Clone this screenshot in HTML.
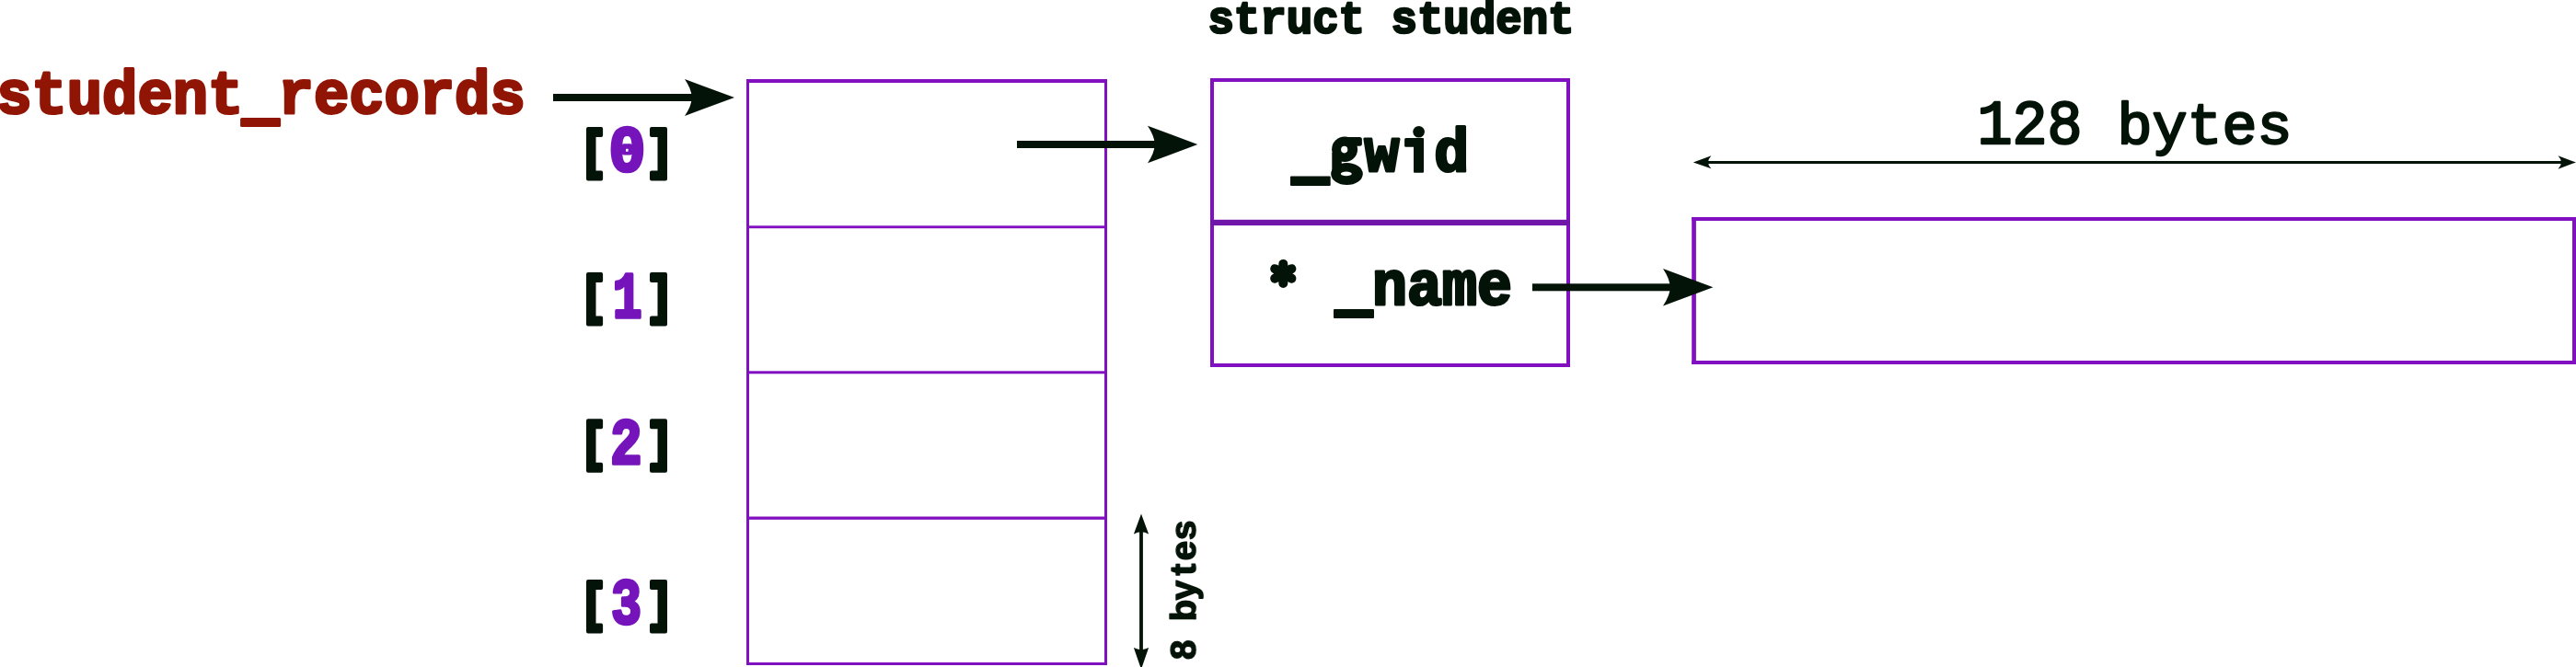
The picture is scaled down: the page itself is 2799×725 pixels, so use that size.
<!DOCTYPE html>
<html>
<head>
<meta charset="utf-8">
<title>student_records diagram</title>
<style>
  html, body { margin: 0; padding: 0; background: #ffffff; }
  body { width: 2799px; height: 725px; overflow: hidden; position: relative; }
  svg { position: absolute; left: 0; top: 0; display: block; }
  .mono { font-family: "Liberation Mono", monospace; font-weight: bold; }
  .sans { font-family: "Liberation Sans", sans-serif; font-weight: bold; }
  .blk { fill: #041308; }
  .pur { fill: #8111c0; }
  .dig { fill: #7614bb; stroke: #7614bb; }
  .red { fill: #911505; stroke: #911505; }
  .tk  { fill: #041308; stroke: #041308; }
</style>
</head>
<body>
<svg width="2799" height="725" viewBox="0 0 2799 725">
  <rect x="0" y="0" width="2799" height="725" fill="#ffffff"/>

  <!-- ===== array box ===== -->
  <g class="pur">
    <rect x="811" y="86" width="392" height="4"/>
    <rect x="811" y="86" width="3" height="637"/>
    <rect x="1200" y="86" width="3" height="637"/>
    <rect x="811" y="245.3" width="392" height="2.9"/>
    <rect x="811" y="403.3" width="392" height="3"/>
    <rect x="811" y="561.5" width="392" height="3.3"/>
    <rect x="811" y="720" width="392" height="3"/>
  </g>

  <!-- ===== struct box ===== -->
  <g class="pur">
    <rect x="1315" y="85" width="391" height="4"/>
    <rect x="1315" y="85" width="4" height="314"/>
    <rect x="1702" y="85" width="4" height="314"/>
    <rect x="1315" y="238.8" width="391" height="6.3" fill="#7116ab"/>
    <rect x="1315" y="395" width="391" height="4"/>
  </g>

  <!-- ===== 128-byte box ===== -->
  <g class="pur">
    <rect x="1838.2" y="236" width="960.8" height="4"/>
    <rect x="1838.2" y="236" width="4.7" height="160"/>
    <rect x="2795" y="236" width="4" height="160"/>
    <rect x="1838.2" y="392" width="960.8" height="4"/>
  </g>

  <!-- ===== thick arrows ===== -->
  <g class="blk">
    <rect x="601" y="102" width="152" height="8"/>
    <path d="M798,106 L744,86 Q752,98 751.5,106 Q752,114 744,126 Z"/>

    <rect x="1105" y="153" width="151" height="8"/>
    <path d="M1301.3,157 L1247,136.8 Q1255,149 1254.5,157 Q1255,165 1247,177.2 Z"/>

    <rect x="1665" y="308.3" width="151" height="8"/>
    <path d="M1861.4,312.3 L1807,292 Q1815,304.3 1814.5,312.3 Q1815,320.3 1807,332.6 Z"/>
  </g>

  <!-- ===== thin double arrows ===== -->
  <g class="blk">
    <rect x="1848" y="175" width="942" height="3"/>
    <path d="M1839.8,176.4 L1859.4,169.3 Q1856,173 1856,176.4 Q1856,179.8 1859.4,183.3 Z"/>
    <path d="M2799,176.5 L2779.5,169.3 Q2783,173 2783,176.5 Q2783,180 2779.5,183.7 Z"/>

    <rect x="1238.1" y="570" width="3.8" height="146"/>
    <path d="M1240,558.6 L1231.9,580.4 Q1236,578.4 1240,578.3 Q1244,578.4 1248.1,580.4 Z"/>
    <path d="M1240,727.5 L1231.9,704.1 Q1236,706.1 1240,706.2 Q1244,706.1 1248.1,704.1 Z"/>
  </g>

  <!-- ===== texts ===== -->
  <!-- student_records -->
  <g class="mono red" stroke-width="3" stroke-linejoin="round">
    <text transform="translate(-3.8,122.5) scale(1,1.04)" font-size="63.83" xml:space="preserve">student records</text>
  </g>
  <rect x="261.1" y="128" width="44" height="10" rx="1.5" fill="#911505"/>

  <!-- struct student -->
  <g class="mono tk" stroke-width="2.4" stroke-linejoin="round">
    <text transform="translate(1312.4,36.3) scale(1,1.07)" font-size="47.4" xml:space="preserve">struct student</text>
  </g>

  <!-- _gwid -->
  <g class="mono tk" stroke-width="3" stroke-linejoin="round">
    <text transform="translate(1406.8,186.4) scale(1,1.065)" font-size="63.1" xml:space="preserve">  w d</text>
  </g>
  <rect x="1402" y="191.5" width="43.7" height="10.5" rx="1" class="blk"/>
  <g class="blk">
    <ellipse cx="1461.1" cy="162.3" rx="14" ry="13.7"/>
    <ellipse cx="1463.5" cy="189" rx="17.3" ry="12.1"/>
    <rect x="1462" y="149" width="17.9" height="9.8" rx="2.5"/>
    <rect x="1447.3" y="166" width="10.5" height="22" />
    <ellipse cx="1460.7" cy="162.6" rx="3.6" ry="3.8" fill="#ffffff"/>
    <ellipse cx="1462.8" cy="188.9" rx="5.9" ry="2.4" fill="#ffffff"/>
    <circle cx="1541.6" cy="143.3" r="6.3"/>
    <rect x="1536" y="150.1" width="11" height="37.6" rx="1"/>
    <rect x="1526.1" y="150.1" width="12" height="9.6" rx="1.5"/>
  </g>

  <!-- * _name -->
  <g class="mono tk" stroke-width="3" stroke-linejoin="round">
    <text transform="translate(1491.1,331.3) scale(1,1.078)" font-size="63.3" xml:space="preserve">name</text>
    
  </g>
  <rect x="1449" y="336" width="44" height="10" rx="1" class="blk"/>
  <g stroke="#041308" stroke-width="10" stroke-linecap="round" fill="none">
    <path d="M1394.3,286.9 V307.9 M1385.2,292.15 L1403.4,302.65 M1385.2,302.65 L1403.4,292.15"/>
  </g>

  <!-- 128 bytes -->
  <g class="mono tk" stroke-width="2.4" stroke-linejoin="round" style="font-weight:normal">
    <text transform="translate(2148.4,155.8) scale(1,1.09)" font-size="63.34" xml:space="preserve">128</text>
    <text transform="translate(2300.4,155.9) scale(1,1)" font-size="63.34" xml:space="preserve">bytes</text>
  </g>

  <!-- 8 bytes (rotated) -->
  <g class="sans tk" stroke-width="1.5" stroke-linejoin="round" style="will-change:transform">
    <text transform="translate(1299.1,0) rotate(-90)" font-size="38.5" x="-716.9 -675.2 -652.3 -625.4 -609.2 -586.9">8bytes</text>
  </g>

  <!-- index labels -->
  <g id="idx">
    <!-- brackets -->
    <g class="blk">
      <path d="M637,140 Q637,138 639,138 H653.3 Q655.1,138 655.1,140 V147 Q655.1,149 653.3,149 H647.5 V185.6 H653.3 Q655.1,185.6 655.1,187.6 V194.6 Q655.1,196.6 653.3,196.6 H639 Q637,196.6 637,194.6 Z"/>
      <path d="M725,140 Q725,138 723,138 H708 Q706,138 706,140 V147 Q706,149 708,149 H714.5 V185.6 H708 Q706,185.6 706,187.6 V194.6 Q706,196.6 708,196.6 H723 Q725,196.6 725,194.6 Z"/>
      <path transform="translate(0,158)" d="M637,140 Q637,138 639,138 H653.3 Q655.1,138 655.1,140 V147 Q655.1,149 653.3,149 H647.5 V185.6 H653.3 Q655.1,185.6 655.1,187.6 V194.6 Q655.1,196.6 653.3,196.6 H639 Q637,196.6 637,194.6 Z"/>
      <path transform="translate(0,158)" d="M725,140 Q725,138 723,138 H708 Q706,138 706,140 V147 Q706,149 708,149 H714.5 V185.6 H708 Q706,185.6 706,187.6 V194.6 Q706,196.6 708,196.6 H723 Q725,196.6 725,194.6 Z"/>
      <path transform="translate(0,317.2)" d="M637,140 Q637,138 639,138 H653.3 Q655.1,138 655.1,140 V147 Q655.1,149 653.3,149 H647.5 V185.6 H653.3 Q655.1,185.6 655.1,187.6 V194.6 Q655.1,196.6 653.3,196.6 H639 Q637,196.6 637,194.6 Z"/>
      <path transform="translate(0,317.2)" d="M725,140 Q725,138 723,138 H708 Q706,138 706,140 V147 Q706,149 708,149 H714.5 V185.6 H708 Q706,185.6 706,187.6 V194.6 Q706,196.6 708,196.6 H723 Q725,196.6 725,194.6 Z"/>
      <path transform="translate(0,492)" d="M637,140 Q637,138 639,138 H653.3 Q655.1,138 655.1,140 V147 Q655.1,149 653.3,149 H647.5 V185.6 H653.3 Q655.1,185.6 655.1,187.6 V194.6 Q655.1,196.6 653.3,196.6 H639 Q637,196.6 637,194.6 Z"/>
      <path transform="translate(0,492)" d="M725,140 Q725,138 723,138 H708 Q706,138 706,140 V147 Q706,149 708,149 H714.5 V185.6 H708 Q706,185.6 706,187.6 V194.6 Q706,196.6 708,196.6 H723 Q725,196.6 725,194.6 Z"/>
    </g>
    <g class="mono dig" stroke-width="3.5" stroke-linejoin="round" font-size="66.4" text-anchor="middle">
      <text transform="translate(681.5,186.2) scale(1,1.07)">0</text>
      <text transform="translate(681.7,344.8) scale(0.8,1.07)">1</text>
      <text transform="translate(680.3,503.6) scale(0.87,1.07)">2</text>
      <text transform="translate(680.5,678.4) scale(0.83,1.07)">3</text>
    </g>
    <rect x="680" y="161.8" width="2.6" height="2.9" fill="#ffffff"/>
  </g>
</svg>
</body>
</html>
